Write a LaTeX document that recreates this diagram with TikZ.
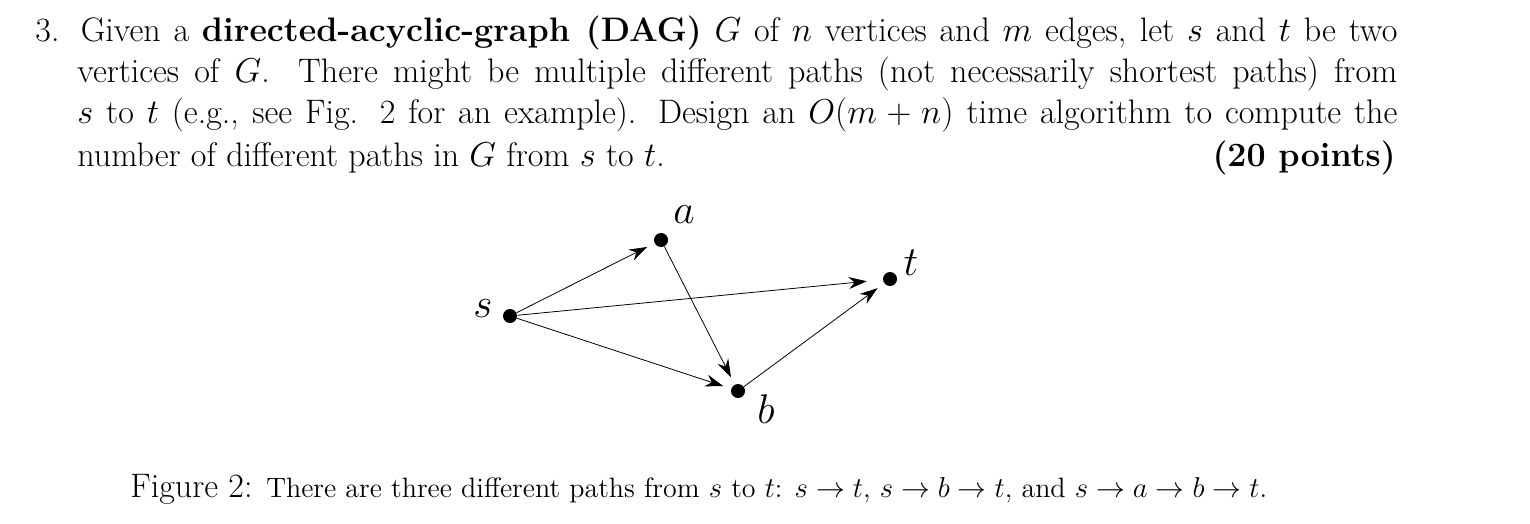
\documentclass[tikz,border=0pt]{standalone}
\usetikzlibrary{arrows.meta}
\begin{document}
\begin{tikzpicture}[x=0.5pt,y=-0.5pt,
  dot/.style={circle,fill=black,inner sep=0pt,minimum size=7pt},
  lab/.style={inner sep=0pt,font=\fontsize{22}{22}\selectfont},
  edge/.style={-{Stealth[length=9pt,width=6pt]},line width=0.4pt,shorten >=4pt},
  txt/.style={anchor=base west,inner sep=0pt,font=\fontsize{17}{20}\selectfont}]
\useasboundingbox (0,0) rectangle (1530,524);
\node[txt] (l1) at (35,42) {\makebox[681pt][s]{3. Given a \textbf{directed-acyclic-graph (DAG)} $G$ of $n$ vertices and $m$ edges, let $s$ and $t$ be two}};
\node[txt] (l2) at (77,83) {\makebox[660pt][s]{vertices of $G$. There might be multiple different paths (not necessarily shortest paths) from}};
\node[txt] (l3) at (77,124) {\makebox[660pt][s]{$s$ to $t$ (e.g., see Fig. 2 for an example). Design an $O(m+n)$ time algorithm to compute the}};
\node[txt] (l4) at (77,166) {number of different paths in $G$ from $s$ to $t$.};
\node[txt,anchor=base east] (pts) at (1396,166) {\textbf{(20 points)}};
\node[dot] (s) at (510,316) {};
\node[dot] (a) at (661,240) {};
\node[dot] (t) at (890,279) {};
\node[dot] (b) at (738,391) {};
\node[lab] (ls) at (483,309) {$s$};
\node[lab] (la) at (684,215) {$a$};
\node[lab] (lt) at (911,263) {$t$};
\node[lab] (lb) at (766,409) {$b$};
\draw[edge] (s) -- (a);
\draw[edge,shorten >=8pt] (s) -- (t);
\draw[edge] (s) -- (b);
\draw[edge] (a) -- (b);
\draw[edge] (b) -- (t);
\node[anchor=base west,inner sep=0pt] (cap) at (130,497) {\fontsize{17}{20}\selectfont Figure 2: \fontsize{14}{16}\selectfont There are three different paths from $s$ to $t$: $s\to t$, $s\to b\to t$, and $s\to a\to b\to t$.};
\end{tikzpicture}
\end{document}
